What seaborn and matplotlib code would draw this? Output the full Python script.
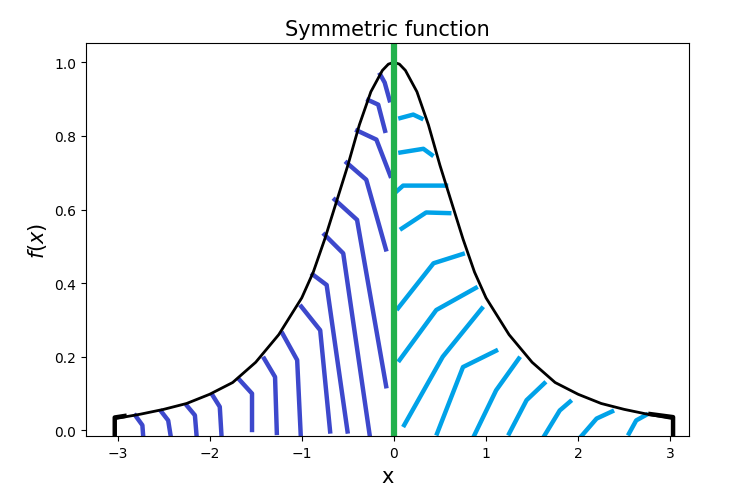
import matplotlib
matplotlib.use("Agg")
import matplotlib.pyplot as plt
import seaborn as sns
import pandas as pd

curve_x = [-3.0, -2.75, -2.5, -2.25, -2.0, -1.75, -1.5, -1.25, -1.0, -0.875, -0.75, -0.625,
           -0.5, -0.375, -0.25, -0.125, -0.06, 0.0,
           0.06, 0.125, 0.25, 0.375, 0.5, 0.625, 0.75, 0.875, 1.0, 1.25, 1.5, 1.75,
           2.0, 2.25, 2.5, 2.75, 3.0]
curve_y = [0.033, 0.044, 0.057, 0.073, 0.098, 0.13, 0.185, 0.26, 0.36, 0.43, 0.52, 0.62,
           0.72, 0.83, 0.92, 0.978, 0.995, 1.0,
           0.995, 0.978, 0.92, 0.83, 0.72, 0.62, 0.52, 0.43, 0.36, 0.26, 0.185, 0.13,
           0.098, 0.073, 0.057, 0.044, 0.033]

left_strokes = [
    [(-2.82, 0.045), (-2.73, 0.014), (-2.72, -0.02)],
    [(-2.54, 0.056), (-2.45, 0.027), (-2.42, -0.02)],
    [(-2.26, 0.071), (-2.16, 0.041), (-2.14, -0.02)],
    [(-1.98, 0.100), (-1.89, 0.064), (-1.87, -0.02)],
    [(-1.70, 0.144), (-1.54, 0.100), (-1.54, -0.005)],
    [(-1.42, 0.200), (-1.29, 0.145), (-1.27, -0.013)],
    [(-1.22, 0.268), (-1.05, 0.191), (-1.01, -0.02)],
    [(-1.02, 0.341), (-0.80, 0.272), (-0.69, -0.009)],
    [(-0.90, 0.427), (-0.73, 0.395), (-0.50, -0.009)],
    [(-0.77, 0.536), (-0.55, 0.481), (-0.26, -0.018)],
    [(-0.66, 0.631), (-0.40, 0.572), (-0.08, 0.114)],
    [(-0.53, 0.731), (-0.30, 0.681), (-0.08, 0.486)],
    [(-0.42, 0.817), (-0.19, 0.790), (-0.03, 0.686)],
    [(-0.30, 0.900), (-0.17, 0.885), (-0.09, 0.808)],
    [(-0.16, 0.972), (-0.10, 0.945), (-0.04, 0.891)],
]
right_strokes = [
    [(0.047, 0.847), (0.21, 0.858), (0.32, 0.845)],
    [(0.047, 0.754), (0.32, 0.765), (0.43, 0.745)],
    [(0.01, 0.645), (0.10, 0.665), (0.59, 0.665)],
    [(0.065, 0.545), (0.35, 0.592), (0.625, 0.590)],
    [(0.03, 0.327), (0.43, 0.454), (0.77, 0.481)],
    [(0.047, 0.186), (0.46, 0.327), (0.91, 0.390)],
    [(0.10, 0.009), (0.53, 0.200), (0.97, 0.336)],
    [(0.46, -0.014), (0.75, 0.172), (1.13, 0.219)],
    [(0.86, -0.02), (1.11, 0.109), (1.37, 0.200)],
    [(1.24, -0.014), (1.44, 0.082), (1.65, 0.132)],
    [(1.62, -0.02), (1.80, 0.054), (1.93, 0.082)],
    [(2.02, -0.02), (2.20, 0.032), (2.39, 0.054)],
    [(2.54, -0.014), (2.63, 0.027), (2.76, 0.045)],
]
end_left = [(-3.03, -0.02), (-3.03, 0.035), (-2.9, 0.04)]
end_right = [(2.76, 0.045), (3.03, 0.036), (3.03, -0.02)]

fig, ax = plt.subplots(figsize=(7.56, 5.02), dpi=100)
fig.subplots_adjust(left=0.114, right=0.911, top=0.912, bottom=0.129)

def draw(pts, color, lw):
    df = pd.DataFrame(pts, columns=["x", "y"])
    sns.lineplot(data=df, x="x", y="y", sort=False, estimator=None, color=color,
                 linewidth=lw, ax=ax, solid_capstyle="butt")

for s in left_strokes:
    draw(s, "#3d48cc", 3.2)
for s in right_strokes:
    draw(s, "#00a2e8", 3.2)
draw(end_left, "black", 3.2)
draw(end_right, "black", 3.2)
sns.lineplot(x=curve_x, y=curve_y, sort=False, estimator=None, color="black", linewidth=2, ax=ax)
ax.axvline(0, color="#22b14c", linewidth=4.5)

ax.set_xlim(-3.34, 3.2)
ax.set_ylim(-0.016, 1.052)
ax.set_xticks([-3, -2, -1, 0, 1, 2, 3])
ax.set_yticks([0.0, 0.2, 0.4, 0.6, 0.8, 1.0])
ax.set_title("Symmetric function", fontsize=15)
ax.set_xlabel("x", fontsize=15)
ax.set_ylabel("$f(x)$", fontsize=15)
fig.savefig("out.png", dpi=100)
